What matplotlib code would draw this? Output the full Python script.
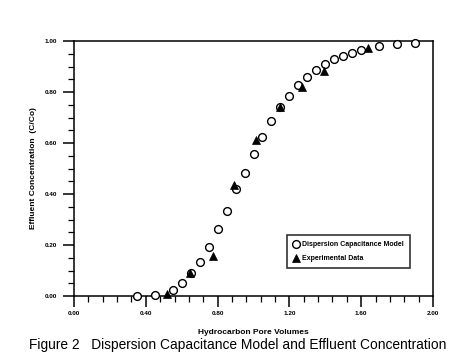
import matplotlib
matplotlib.use("Agg")
import matplotlib.pyplot as plt
from matplotlib.ticker import MultipleLocator, FixedLocator

# ---- data ----
model_x = [0.35, 0.45, 0.55, 0.60, 0.65, 0.70, 0.75, 0.80, 0.85, 0.90, 0.95, 1.00,
           1.05, 1.10, 1.15, 1.20, 1.25, 1.30, 1.35, 1.40, 1.45, 1.50, 1.55, 1.60,
           1.70, 1.80, 1.90]
model_y = [0.000, 0.003, 0.025, 0.050, 0.090, 0.133, 0.193, 0.261, 0.335, 0.420,
           0.484, 0.556, 0.623, 0.685, 0.741, 0.784, 0.827, 0.859, 0.886, 0.911,
           0.928, 0.942, 0.954, 0.965, 0.981, 0.989, 0.994]
exp_x = [0.52, 0.645, 0.775, 0.89, 1.015, 1.145, 1.27, 1.39, 1.64]
exp_y = [0.008, 0.092, 0.155, 0.435, 0.610, 0.742, 0.821, 0.882, 0.972]

x_ticks = [0.0, 0.4, 0.8, 1.2, 1.6, 2.0]
x_ticklabels = ["0.00", "0.40", "0.80", "1.20", "1.60", "2.00"]
y_ticks = [0.0, 0.2, 0.4, 0.6, 0.8, 1.0]
y_ticklabels = ["0.00", "0.20", "0.40", "0.60", "0.80", "1.00"]

xlabel = "Hydrocarbon Pore Volumes"
ylabel = "Effluent Concentration  (C/Co)"
model_label = "Dispersion Capacitance Model"
exp_label = "Experimental Data"
caption = "Figure 2   Dispersion Capacitance Model and Effluent Concentration"

plt.rcParams['font.family'] = ['Liberation Sans', 'DejaVu Sans']

fig = plt.figure(figsize=(4.74, 3.53), dpi=100)
fig.patch.set_facecolor('white')
W, H = 474, 353
ax = fig.add_axes([74 / W, 1 - 296 / H, (433 - 74) / W, (296 - 41) / H])

ax.plot(model_x, model_y, linestyle='none', marker='o', markersize=5.6,
        markerfacecolor='white', markeredgecolor='black', markeredgewidth=1.0,
        label=model_label, clip_on=False, zorder=3)
ax.plot(exp_x, exp_y, linestyle='none', marker='^', markersize=5.2,
        markerfacecolor='black', markeredgecolor='black', markeredgewidth=0.5,
        label=exp_label, clip_on=False, zorder=4)

ax.set_xlim(0, 2.0)
ax.set_ylim(0, 1.0)
ax.xaxis.set_major_locator(FixedLocator(x_ticks))
ax.set_xticklabels(x_ticklabels)
ax.yaxis.set_major_locator(FixedLocator(y_ticks))
ax.set_yticklabels(y_ticklabels)
ax.xaxis.set_minor_locator(MultipleLocator(0.08))
ax.yaxis.set_minor_locator(MultipleLocator(0.05))

ax.tick_params(axis='x', which='major', direction='out', length=8, width=1.1,
               pad=2.5, labelsize=4.6)
ax.tick_params(axis='x', which='minor', direction='out', length=4, width=0.9)
ax.tick_params(axis='y', which='major', direction='out', length=8, width=1.1,
               pad=4.0, labelsize=4.6)
ax.tick_params(axis='y', which='minor', direction='out', length=4.3, width=0.9)
for lab in ax.get_xticklabels() + ax.get_yticklabels():
    lab.set_fontweight('bold')

for s in ax.spines.values():
    s.set_linewidth(1.1)

ax.set_xlabel(xlabel, fontsize=6, fontweight='bold', labelpad=10)
ax.set_ylabel(ylabel, fontsize=6, fontweight='bold', labelpad=6)

leg = ax.legend(loc='upper left', bbox_to_anchor=(287 / W, 1 - 235 / H),
                bbox_transform=fig.transFigure, fontsize=5.0, frameon=True,
                fancybox=False, handlelength=0.8, handletextpad=0.5,
                borderpad=0.9, labelspacing=1.0, borderaxespad=0)
leg.get_frame().set_edgecolor('black')
leg.get_frame().set_linewidth(1.2)
for t in leg.get_texts():
    t.set_fontweight('bold')

fig.text(238 / W, 1 - 349.5 / H, caption, ha='center', va='baseline', fontsize=9.9)

fig.savefig("out.png", dpi=100, facecolor='white')
